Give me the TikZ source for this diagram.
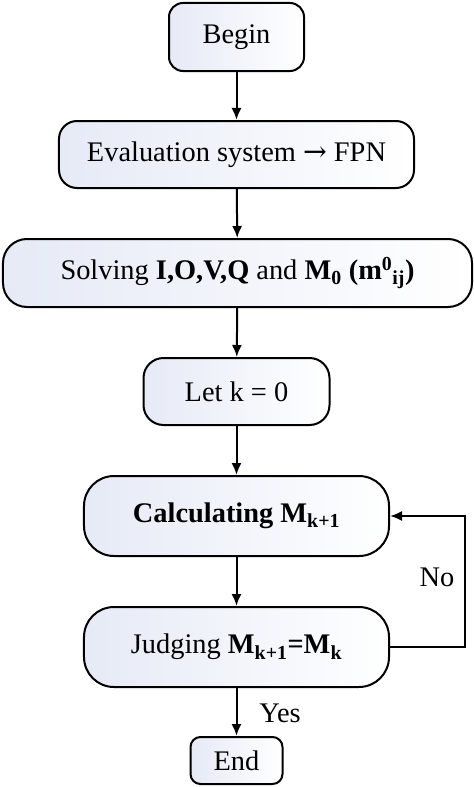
\documentclass[tikz,border=0pt]{standalone}
\usepackage{fontspec}
\setmainfont{Liberation Serif}
\newfontfamily\arrowfont{DejaVu Serif}
\usetikzlibrary{arrows.meta}
\definecolor{boxblue}{HTML}{E6EAF6}

\begin{document}
\begin{tikzpicture}[x=1bp,y=-1bp,
	box/.style={draw, line width=2bp, left color=boxblue, right color=white, align=center, inner sep=0pt, font=\fontsize{28.5}{32}\selectfont},
	arr/.style={line width=2bp, -{Latex[length=12bp,width=10bp]}},
	lab/.style={font=\fontsize{28.5}{32}\selectfont}]

	\useasboundingbox (0,0) rectangle (474,787);

	\node [box, rounded corners=14bp, minimum width=135bp, minimum height=68bp] (begin) at (236.5,37) {Begin};
	\node [box, rounded corners=18bp, minimum width=355bp, minimum height=67bp] (eval) at (236.5,154.5) {Evaluation system {\arrowfont →} FPN};
	\node [box, rounded corners=24bp, minimum width=469bp, minimum height=68bp] (solve) at (237.5,273) {Solving \textbf{I,O,V,Q} and \textbf{M\textsubscript{0} (m\textsuperscript{0}\textsubscript{ij})}};
	\node [box, rounded corners=20bp, minimum width=186bp, minimum height=67bp] (letk) at (236.5,391.5) {Let k = 0};
	\node [box, rounded corners=30bp, minimum width=305bp, minimum height=80bp] (calc) at (236.5,516) {\textbf{Calculating M\textsubscript{k+1}}};
	\node [box, rounded corners=30bp, minimum width=305bp, minimum height=80bp] (judge) at (236.5,647) {Judging \textbf{M\textsubscript{k+1}=M\textsubscript{k}}};
	\node [box, rounded corners=10bp, minimum width=92bp, minimum height=47bp] (end) at (236.5,760.5) {End};

	\coordinate (loop) at (465,647);

	\draw [arr] (begin) -- (eval);
	\draw [arr] (eval) -- (solve);
	\draw [arr] (solve) -- (letk);
	\draw [arr] (letk) -- (calc);
	\draw [arr] (calc) -- (judge);
	\draw [arr] (judge) -- (end);
	\draw [arr] (judge.east) -- (loop) |- (calc.east);

	\node [lab] (no) at (437,577) {No};
	\node [lab] (yes) at (280,713) {Yes};
\end{tikzpicture}
\end{document}
